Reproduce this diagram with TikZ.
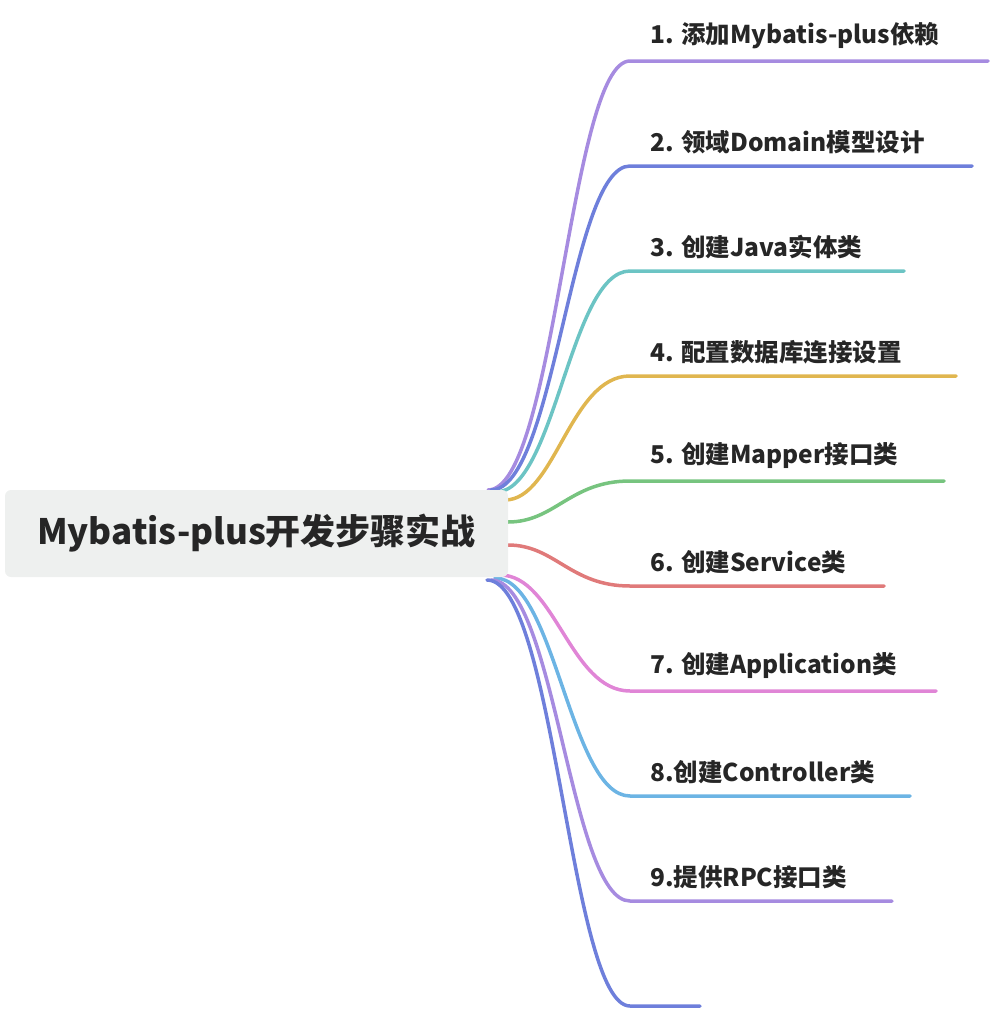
\documentclass[tikz,border=0pt]{standalone}
\usepackage{fontspec}
\setmainfont{Noto Sans CJK SC}
\begin{document}
\begin{tikzpicture}[x=1pt,y=-1pt,
  br/.style={line width=3.5pt,line cap=round},
  lab/.style={anchor=south west,font=\fontsize{24.5}{28}\selectfont\bfseries,text=black!85,inner sep=0pt}]
\useasboundingbox (0,0) rectangle (990,1012);
\definecolor{c1}{HTML}{A68BE0}\definecolor{c2}{HTML}{6E7FDB}\definecolor{c3}{HTML}{6CC4C4}
\definecolor{c4}{HTML}{E0B64F}\definecolor{c5}{HTML}{77C47F}\definecolor{c6}{HTML}{E07A7A}
\definecolor{c7}{HTML}{E085D6}\definecolor{c8}{HTML}{6CB4E4}\definecolor{rootbg}{HTML}{EEF0EF}
\foreach \c/\sy/\sx/\y/\ex/\t [count=\i] in {
 c1/490/488/61/988/{1. 添加Mybatis-plus依赖},
 c2/490/491/166/972/{2. 领域Domain模型设计},
 c3/492/496/271/904/{3. 创建Java实体类},
 c4/500/505/376/956/{4. 配置数据库连接设置},
 c5/522/508/481/944/{5. 创建Mapper接口类},
 c6/545/508/586/884/{6. 创建Service类},
 c7/575/500/691/936/{7. 创建Application类},
 c8/578/495/796/910/{8.创建Controller类},
 c1/580/491/901/892/{9.提供RPC接口类},
 c2/580/487/1006/700/{}}{
 \coordinate (s\i) at (\sx,\sy);
 \coordinate (m\i) at (630,\y);
 \coordinate (e\i) at (\ex,\y);
 \draw[br,\c] (s\i) .. controls (555,\sy) and (570,\y) .. (m\i) -- (e\i);
 \node[lab] (l\i) at (650,\y-12) {\t};
}
\node[fill=rootbg,rounded corners=6pt,minimum width=503pt,minimum height=87pt,
  font=\fontsize{35}{40}\selectfont\bfseries,text=black!85] (root) at (256.5,533.5) {Mybatis-plus开发步骤实战};
\end{tikzpicture}
\end{document}
